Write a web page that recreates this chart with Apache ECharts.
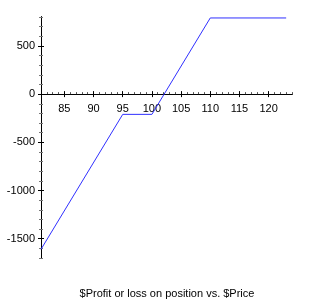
<!DOCTYPE html>
<html><head><meta charset="utf-8">
<script src="https://cdn.jsdelivr.net/npm/echarts@6/dist/echarts.min.js"></script>
<style>html,body{margin:0;padding:0;background:#fff}#c{width:320px;height:299px}</style>
</head><body><div id="c"></div>
<script>
const prices = [81, 95, 100, 110, 123];
const profit = [-1610, -210, -210, 790, 790];
const xTicks = [85, 90, 95, 100, 105, 110, 115, 120];
const yTicks = [-1500, -1000, -500, 0, 500];
const xMinor = [];
for (let v = 82; v <= 124; v++) if (xTicks.indexOf(v) < 0) xMinor.push(v);
const yMinor = [];
for (let v = -1700; v <= 800; v += 100) if (yTicks.indexOf(v) < 0) yMinor.push(v);

const X_MIN = 81, X_MAX = 124, Y_MIN = -1700, Y_MAX = 800;
const TOP = 17, BOTTOM = 41, LEFT = 41, RIGHT = 28, H = 299;
const plotH = H - TOP - BOTTOM;
const zeroBottom = H - (TOP + (Y_MAX / (Y_MAX - Y_MIN)) * plotH);

const font = {fontFamily: 'Liberation Sans, Arial, sans-serif', fontSize: 11, color: '#000'};
function xAx(ticks, inside, len, labels, color) {
  return {
    type: 'value', min: X_MIN, max: X_MAX, position: 'bottom', gridIndex: 1,
    axisLine: {show: true, onZero: false, lineStyle: {color: '#000', width: 1}},
    axisTick: {show: true, inside: inside, length: len, customValues: ticks, lineStyle: {color: color}},
    axisLabel: labels ? Object.assign({show: true, customValues: xTicks, margin: 9}, font) : {show: false},
    splitLine: {show: false}
  };
}
function yAx(ticks, inside, len, labels, color) {
  return {
    type: 'value', min: Y_MIN, max: Y_MAX, position: 'left', gridIndex: 0,
    axisLine: {show: true, onZero: false, lineStyle: {color: '#000', width: 1}},
    axisTick: {show: true, inside: inside, length: len, customValues: ticks, lineStyle: {color: color}},
    axisLabel: labels ? Object.assign({show: true, customValues: yTicks, margin: 6, formatter: v => String(v)}, font) : {show: false},
    splitLine: {show: false}
  };
}
const chart = echarts.init(document.getElementById('c'), null, {renderer: 'canvas'});
chart.setOption({
  animation: false,
  backgroundColor: '#fff',
  grid: [
    {left: LEFT, right: RIGHT, top: TOP, bottom: BOTTOM},
    {left: LEFT, right: RIGHT, top: TOP, bottom: zeroBottom}
  ],
  title: {
    text: '$Profit or loss on position vs. $Price',
    left: 162, top: 283, textAlign: 'center',
    textStyle: {fontFamily: 'Liberation Sans, Arial, sans-serif', fontSize: 11, fontWeight: 'normal', color: '#000'}
  },
  xAxis: [
    {type: 'value', min: X_MIN, max: X_MAX, gridIndex: 0, show: false},
    xAx(xTicks, true, 3, true, '#000'),
    xAx(xTicks, false, 3, false, '#000'),
    xAx(xMinor, true, 2, false, '#555')
  ],
  yAxis: [
    yAx(yTicks, true, 3, true, '#000'),
    yAx(yTicks, false, 3, false, '#000'),
    yAx(yMinor, false, 2, false, '#777'),
    yAx(yMinor, true, 2, false, '#777'),
    {type: 'value', min: 0, max: 1, gridIndex: 1, show: false}
  ],
  series: [{
    type: 'line',
    xAxisIndex: 0, yAxisIndex: 0,
    data: prices.map((p, i) => [p, profit[i]]),
    showSymbol: false, symbol: 'none',
    lineStyle: {color: '#3030ff', width: 1},
    z: 5
  }]
});
</script></body></html>
